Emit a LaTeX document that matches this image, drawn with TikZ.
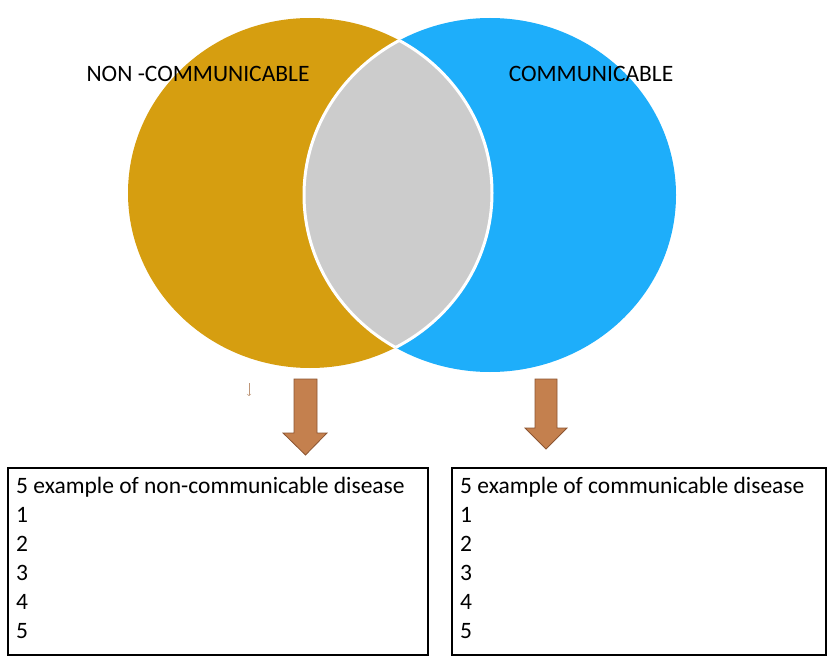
\documentclass[tikz,border=0pt]{standalone}
\usepackage{fontspec}
\setmainfont{Carlito}
\definecolor{ncd}{RGB}{214,158,16}
\definecolor{cd}{RGB}{30,174,250}
\definecolor{lens}{RGB}{204,204,204}
\definecolor{arrfill}{RGB}{196,128,78}
\definecolor{arrline}{RGB}{140,85,50}
\definecolor{smallarr}{RGB}{190,150,120}
\begin{document}
\begin{tikzpicture}[x=1pt,y=-1pt,
  blockarrow/.style={fill=arrfill,draw=arrline,line width=0.8pt},
  listbox/.style={draw=black,line width=1.8pt,fill=white},
  txt/.style={font=\fontsize{23.5}{29}\selectfont,anchor=north west,align=left,inner sep=0pt}]
\useasboundingbox (0,0) rectangle (833,663);
\fill[white] (0,0) rectangle (833,663);
\fill[ncd] (310,193) ellipse [x radius=182, y radius=175];
\fill[cd] (490,195) ellipse [x radius=186, y radius=177];
\begin{scope}
\clip (310,193) ellipse [x radius=182, y radius=175];
\fill[lens] (490,195) ellipse [x radius=186, y radius=177];
\draw[white,line width=3pt] (490,195) ellipse [x radius=186, y radius=177];
\end{scope}
\begin{scope}
\clip (490,195) ellipse [x radius=186, y radius=177];
\draw[white,line width=3pt] (310,193) ellipse [x radius=182, y radius=175];
\end{scope}
\node[font=\fontsize{23.5}{25}\selectfont] (ncdlabel) at (198,74) {NON -COMMUNICABLE};
\node[font=\fontsize{23.5}{25}\selectfont] (cdlabel) at (591,74) {COMMUNICABLE};
\draw[blockarrow] (294,379) -- (317,379) -- (317,433) -- (327,433) -- (305.5,455) -- (283,433) -- (294,433) -- cycle;
\draw[blockarrow] (535,379) -- (557,379) -- (557,428) -- (567,428) -- (546,449) -- (525,428) -- (535,428) -- cycle;
\coordinate (sa1) at (249,383);
\coordinate (sa2) at (249,396);
\draw[smallarr,line width=0.6pt,->] (sa1) -- (sa2);
\draw[listbox] (8,468) rectangle (428,655);
\draw[listbox] (452,468) rectangle (826,655);
\node[txt] (lefttext) at (16,477) {5 example of non-communicable disease\\1\\2\\3\\4\\5};
\node[txt] (righttext) at (460,477) {5 example of communicable disease\\1\\2\\3\\4\\5};
\end{tikzpicture}
\end{document}
